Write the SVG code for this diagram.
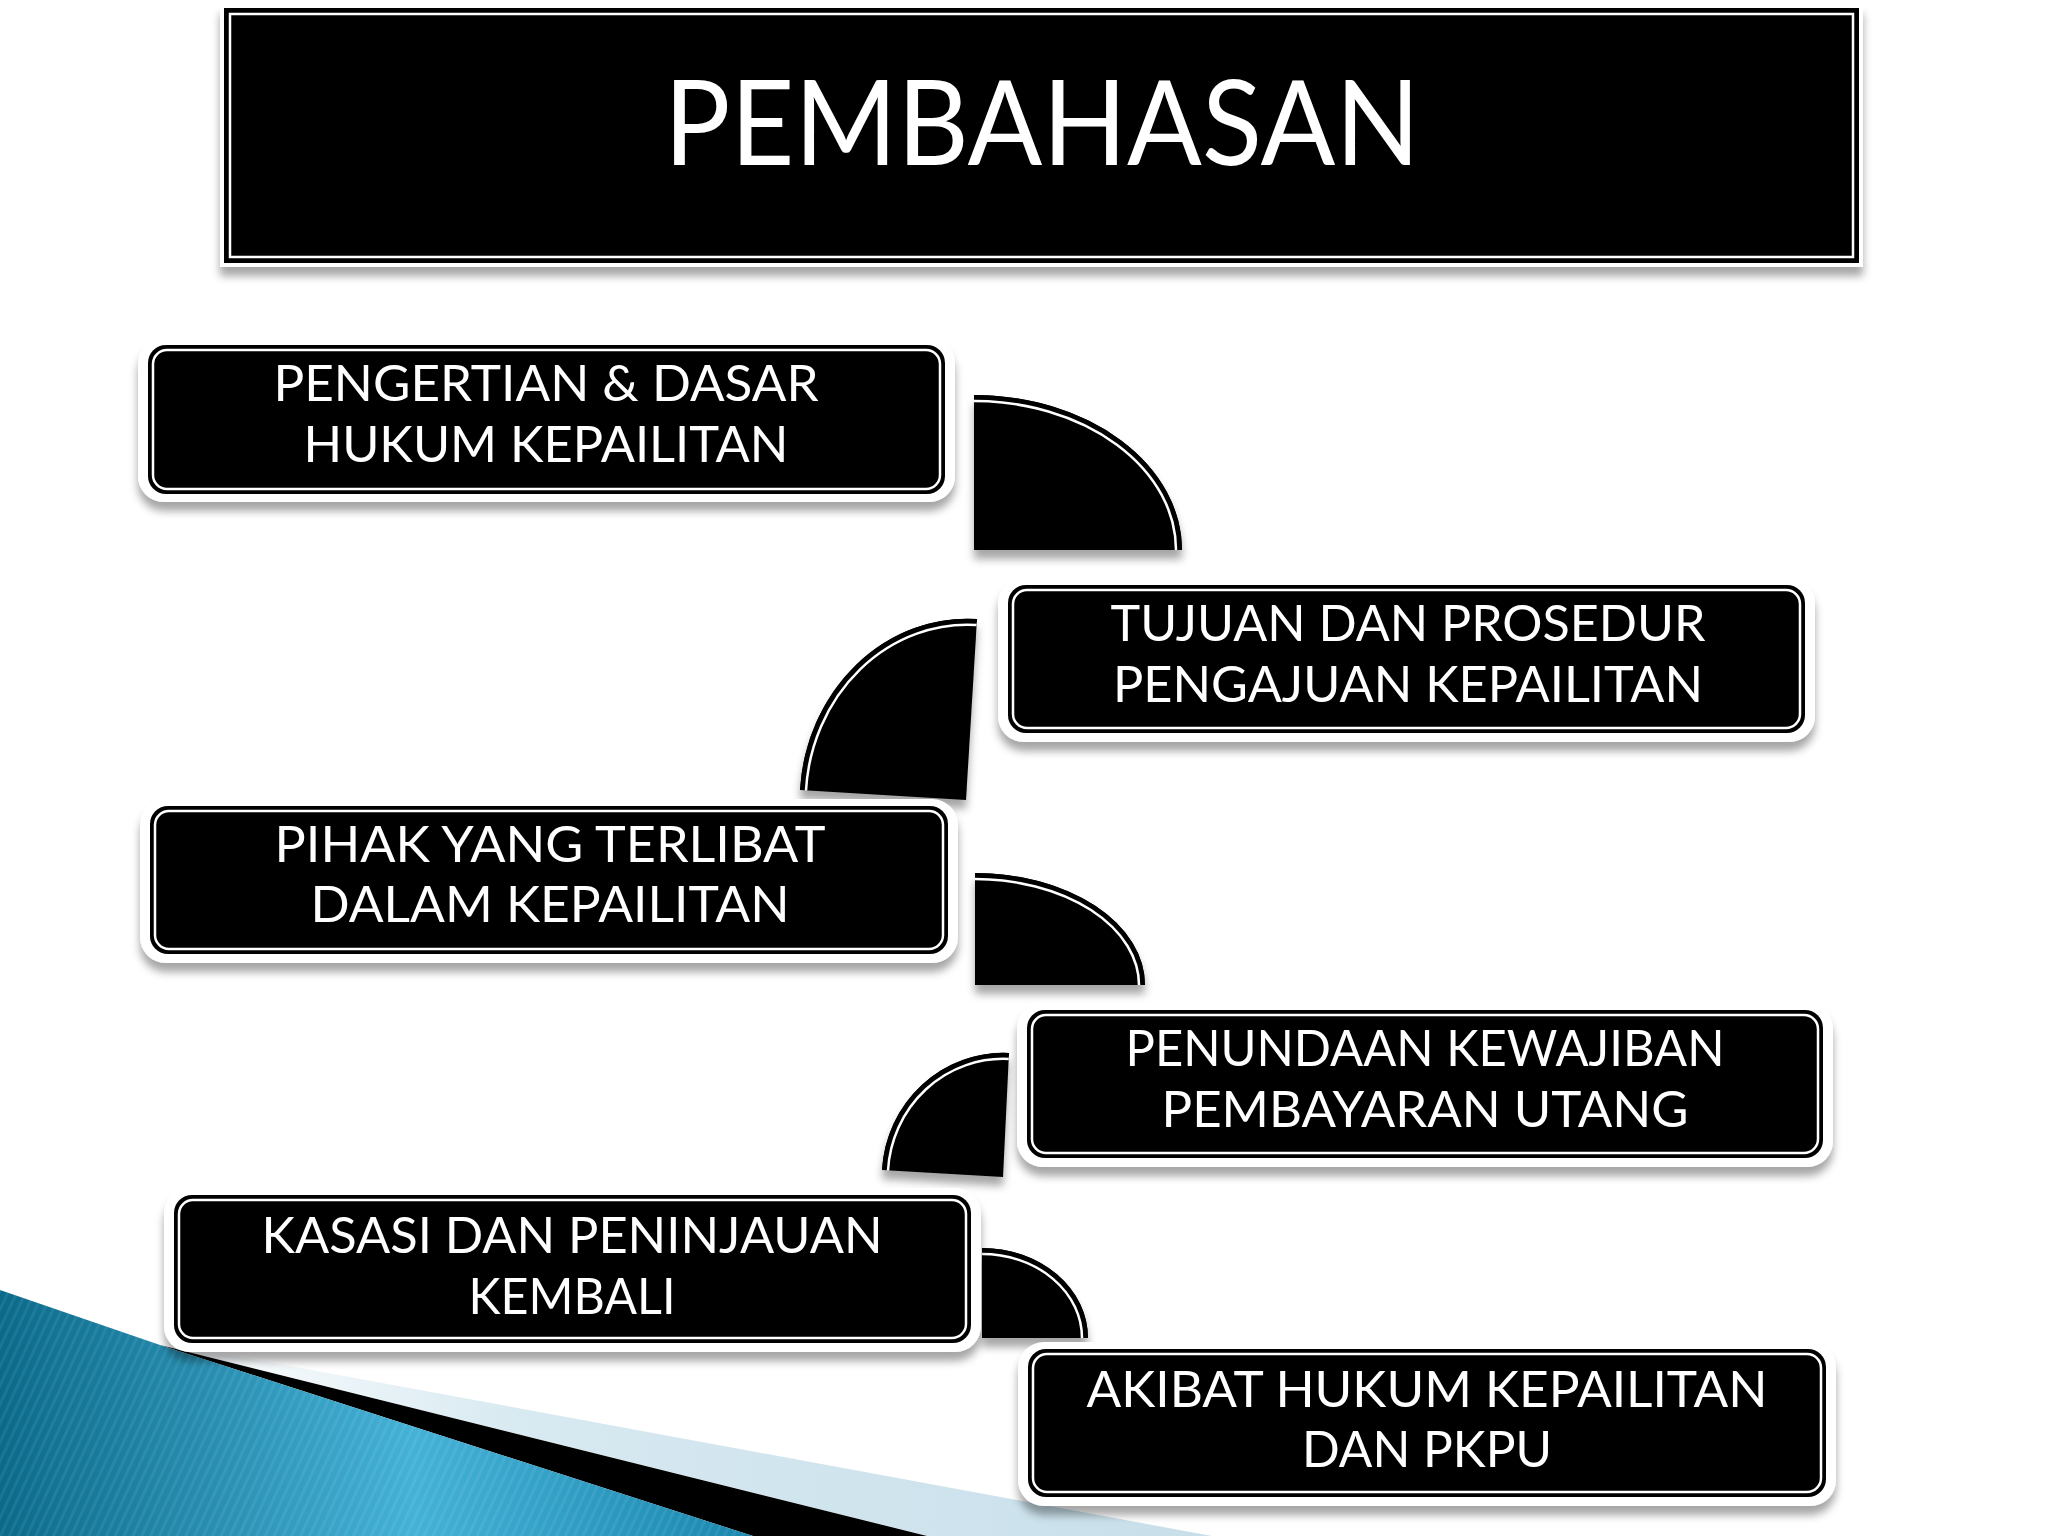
<svg xmlns="http://www.w3.org/2000/svg" width="2048" height="1536" viewBox="0 0 2048 1536">
<defs>
  <filter id="sh" x="-5%" y="-20%" width="110%" height="150%">
    <feGaussianBlur in="SourceAlpha" stdDeviation="4"/>
    <feOffset dx="0" dy="9" result="b"/>
    <feFlood flood-color="#000" flood-opacity="0.35"/>
    <feComposite in2="b" operator="in"/>
    <feMerge><feMergeNode/><feMergeNode in="SourceGraphic"/></feMerge>
  </filter>
  <linearGradient id="blue" x1="0" y1="0" x2="1" y2="0">
    <stop offset="0" stop-color="#0b6a8a"/>
    <stop offset="0.55" stop-color="#44b1d7"/>
    <stop offset="1" stop-color="#1a87ae"/>
  </linearGradient>
  <linearGradient id="lblue" x1="0" y1="0" x2="1" y2="0">
    <stop offset="0" stop-color="#ffffff"/>
    <stop offset="0.35" stop-color="#d7e9f1"/>
    <stop offset="1" stop-color="#c8dfea"/>
  </linearGradient>
  <pattern id="stripes" width="8" height="8" patternUnits="userSpaceOnUse" patternTransform="rotate(25)">
    <rect width="3" height="8" fill="#ffffff" opacity="0.07"/>
  </pattern>
  <style>
    .outer { fill: #ffffff; }
    .box { fill: #000000; }
    .inner { fill: none; stroke: #ffffff; stroke-width: 2.5; }
    .lbl { font-family: Lato, "Open Sans", "DejaVu Sans", sans-serif; font-size: 50px; fill: #ffffff; text-anchor: middle; }
    .q { fill: #000000; }
    .qw { fill: none; stroke: #ffffff; stroke-width: 2.5; }
    .qb { fill: none; stroke: #000000; stroke-width: 3; }
  </style>
</defs>

<rect width="2048" height="1536" fill="#ffffff"/>

<!-- bottom-left decoration -->
<g id="decoration">
  <polygon points="230,1355 1212,1536 927,1536 160,1345" fill="url(#lblue)"/>
  <polygon points="160,1345 927,1536 753,1536" fill="#000000"/>
  <polygon points="0,1290 160,1345 753,1536 0,1536" fill="url(#blue)"/>
  <polygon points="0,1290 160,1345 753,1536 0,1536" fill="url(#stripes)"/>
</g>

<!-- title -->
<g id="title" filter="url(#sh)">
  <rect x="220" y="5" width="1643" height="262" fill="#ffffff"/>
  <rect x="224" y="8" width="1635" height="255" fill="#000000"/>
  <rect x="230" y="14" width="1623" height="243" fill="none" stroke="#ffffff" stroke-width="2.5"/>
  <text x="1042" y="165" font-family="Lato, 'Open Sans', 'DejaVu Sans', sans-serif" font-size="119" fill="#ffffff" text-anchor="middle" textLength="756" lengthAdjust="spacingAndGlyphs">PEMBAHASAN</text>
</g>

<!-- connectors -->
<g id="connectors" filter="url(#sh)">
  <g id="c1">
    <path class="q" d="M974,395 A208,155 0 0 1 1182,550 L974,550 Z"/>
    <path class="qb" d="M974,396.5 A206.5,153.5 0 0 1 1180.5,550"/>
    <path class="qw" d="M974,401 A202,149 0 0 1 1176,550"/>
  </g>
  <g id="c2">
    <path class="q" d="M977,619 L966,800 L800,790 A166,181 3 0 1 977,619 Z"/>
    <path class="qb" d="M801.5,790 A164.5,179.5 3 0 1 977,620.5"/>
    <path class="qw" d="M806,790.5 A160,175 3 0 1 976.5,625"/>
  </g>
  <g id="c3">
    <path class="q" d="M975,873 A170,112 0 0 1 1145,985 L975,985 Z"/>
    <path class="qb" d="M975,874.5 A168.5,110.5 0 0 1 1143.5,985"/>
    <path class="qw" d="M975,879 A164,106 0 0 1 1139,985"/>
  </g>
  <g id="c4">
    <path class="q" d="M1009,1053 L1003,1177 L882,1170 A121,124 3 0 1 1009,1053 Z"/>
    <path class="qb" d="M883.5,1170 A119.5,122.5 3 0 1 1009,1054.5"/>
    <path class="qw" d="M888,1170.5 A115,118 3 0 1 1008.7,1059"/>
  </g>
  <g id="c5">
    <path class="q" d="M982,1248 A106,90 0 0 1 1088,1338 L982,1338 Z"/>
    <path class="qb" d="M982,1249.5 A104.5,88.5 0 0 1 1086.5,1338"/>
    <path class="qw" d="M982,1254 A100,84 0 0 1 1082,1338"/>
  </g>
</g>

<!-- nodes -->
<g id="n1" filter="url(#sh)">
  <rect class="outer" x="138" y="338" width="817" height="164" rx="26"/>
  <rect class="box" x="148" y="345" width="797" height="149" rx="18"/>
  <rect class="inner" x="153" y="350" width="787" height="139" rx="14"/>
  <text class="lbl" x="546" y="401" textLength="545" lengthAdjust="spacingAndGlyphs">PENGERTIAN &amp; DASAR</text>
  <text class="lbl" x="546" y="462" textLength="485" lengthAdjust="spacingAndGlyphs">HUKUM KEPAILITAN</text>
</g>

<g id="n2" filter="url(#sh)">
  <rect class="outer" x="998" y="578" width="817" height="164" rx="26"/>
  <rect class="box" x="1008" y="585" width="797" height="148" rx="18"/>
  <rect class="inner" x="1013" y="590" width="787" height="138" rx="14"/>
  <text class="lbl" x="1408" y="641" textLength="595" lengthAdjust="spacingAndGlyphs">TUJUAN DAN PROSEDUR</text>
  <text class="lbl" x="1408" y="702" textLength="590" lengthAdjust="spacingAndGlyphs">PENGAJUAN KEPAILITAN</text>
</g>

<g id="n3" filter="url(#sh)">
  <rect class="outer" x="140" y="799" width="818" height="164" rx="26"/>
  <rect class="box" x="150" y="806" width="798" height="148" rx="18"/>
  <rect class="inner" x="155" y="811" width="788" height="138" rx="14"/>
  <text class="lbl" x="550" y="862" textLength="551" lengthAdjust="spacingAndGlyphs">PIHAK YANG TERLIBAT</text>
  <text class="lbl" x="550" y="922" textLength="479" lengthAdjust="spacingAndGlyphs">DALAM KEPAILITAN</text>
</g>

<g id="n4" filter="url(#sh)">
  <rect class="outer" x="1017" y="1003" width="816" height="164" rx="26"/>
  <rect class="box" x="1027" y="1010" width="796" height="148" rx="18"/>
  <rect class="inner" x="1032" y="1015" width="786" height="138" rx="14"/>
  <text class="lbl" x="1425" y="1066" textLength="599" lengthAdjust="spacingAndGlyphs">PENUNDAAN KEWAJIBAN</text>
  <text class="lbl" x="1425" y="1127" textLength="527" lengthAdjust="spacingAndGlyphs">PEMBAYARAN UTANG</text>
</g>

<g id="n5" filter="url(#sh)">
  <rect class="outer" x="164" y="1188" width="817" height="164" rx="26"/>
  <rect class="box" x="174" y="1195" width="797" height="148" rx="18"/>
  <rect class="inner" x="179" y="1200" width="787" height="138" rx="14"/>
  <text class="lbl" x="572" y="1253" textLength="621" lengthAdjust="spacingAndGlyphs">KASASI DAN PENINJAUAN</text>
  <text class="lbl" x="572" y="1314" textLength="207" lengthAdjust="spacingAndGlyphs">KEMBALI</text>
</g>

<g id="n6" filter="url(#sh)">
  <rect class="outer" x="1018" y="1342" width="818" height="164" rx="26"/>
  <rect class="box" x="1028" y="1349" width="798" height="148" rx="18"/>
  <rect class="inner" x="1033" y="1354" width="788" height="138" rx="14"/>
  <text class="lbl" x="1427" y="1407" textLength="681" lengthAdjust="spacingAndGlyphs">AKIBAT HUKUM KEPAILITAN</text>
  <text class="lbl" x="1427" y="1467" textLength="250" lengthAdjust="spacingAndGlyphs">DAN PKPU</text>
</g>
</svg>
